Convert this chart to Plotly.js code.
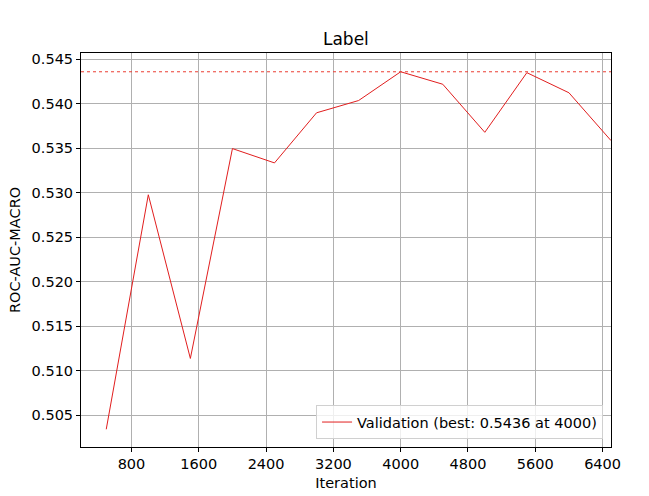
<!DOCTYPE html>
<html lang="en">
  <head>
    <meta charset="UTF-8" />
    <title>Label</title>
    <script src="https://cdn.plot.ly/plotly-3.0.1.min.js"></script>
    <style>
      * {
        margin: 0;
        padding: 0;
      }
      html,
      body {
        width: 649px;
        height: 496px;
        background: #ffffff;
      }
    </style>
  </head>
  <body>
    <div id="chart" style="width: 649px; height: 496px"></div>

    <script>
      // validation values
      const iterations = [
        500, 1000, 1500, 2000, 2500, 3000, 3500, 4000, 4500, 5000, 5500, 6000,
        6500,
      ];
      const rocAucMacro = [
        0.50343, 0.52978, 0.51139, 0.53497, 0.53336, 0.53899, 0.54037, 0.5436,
        0.5422, 0.5368, 0.5435, 0.54124, 0.53587,
      ];
      const bestValue = 0.5436;
      const bestIter = 4000;
      const xTicks = [800, 1600, 2400, 3200, 4000, 4800, 5600, 6400];
      const yTicks = [0.505, 0.51, 0.515, 0.52, 0.525, 0.53, 0.535, 0.54, 0.545];

      const font = { family: "DejaVu Sans, sans-serif", size: 14.5, color: "#000" };

      const traces = [
        {
          x: iterations,
          y: rocAucMacro,
          type: "scatter",
          mode: "lines",
          name:
            "Validation (best: " + bestValue.toFixed(4) + " at " + bestIter + ")",
          line: { color: "rgb(225,30,30)", width: 1 },
        },
        {
          x: [200, 6500],
          y: [bestValue, bestValue],
          type: "scatter",
          mode: "lines",
          showlegend: false,
          line: { color: "rgb(235,60,50)", width: 1, dash: "dot" },
        },
      ];

      const axisCommon = {
        showline: true,
        linecolor: "#000",
        linewidth: 1,
        mirror: true,
        ticks: "outside",
        ticklen: 4,
        tickcolor: "#000",
        showgrid: true,
        gridcolor: "#b0b0b0",
        gridwidth: 1,
        zeroline: false,
        tickfont: font,
      };

      const layout = {
        width: 649,
        height: 496,
        margin: { l: 81, r: 38, t: 53, b: 49 },
        paper_bgcolor: "#fff",
        plot_bgcolor: "#fff",
        font: font,
        title: {
          text: "Label",
          font: { family: "DejaVu Sans, sans-serif", size: 17, color: "#000" },
          x: 0.533,
          xanchor: "center",
          y: 0.922,
          yanchor: "middle",
        },
        xaxis: Object.assign({}, axisCommon, {
          range: [200, 6500],
          tickmode: "array",
          tickvals: xTicks,
          ticktext: xTicks.map(String),
          title: { text: "Iteration", font: font, standoff: 6 },
        }),
        yaxis: Object.assign({}, axisCommon, {
          range: [0.50144, 0.54571],
          tickmode: "array",
          tickvals: yTicks,
          ticktext: yTicks.map((v) => v.toFixed(3)),
          title: { text: "ROC-AUC-MACRO", font: font, standoff: 7 },
        }),
        showlegend: true,
        legend: {
          x: 0.985,
          y: 0.02,
          xanchor: "right",
          yanchor: "bottom",
          bgcolor: "rgba(255,255,255,0.8)",
          bordercolor: "#d0d0d0",
          borderwidth: 1,
          font: font,
        },
      };

      Plotly.newPlot("chart", traces, layout, { displayModeBar: false, staticPlot: true });
    </script>
  </body>
</html>
